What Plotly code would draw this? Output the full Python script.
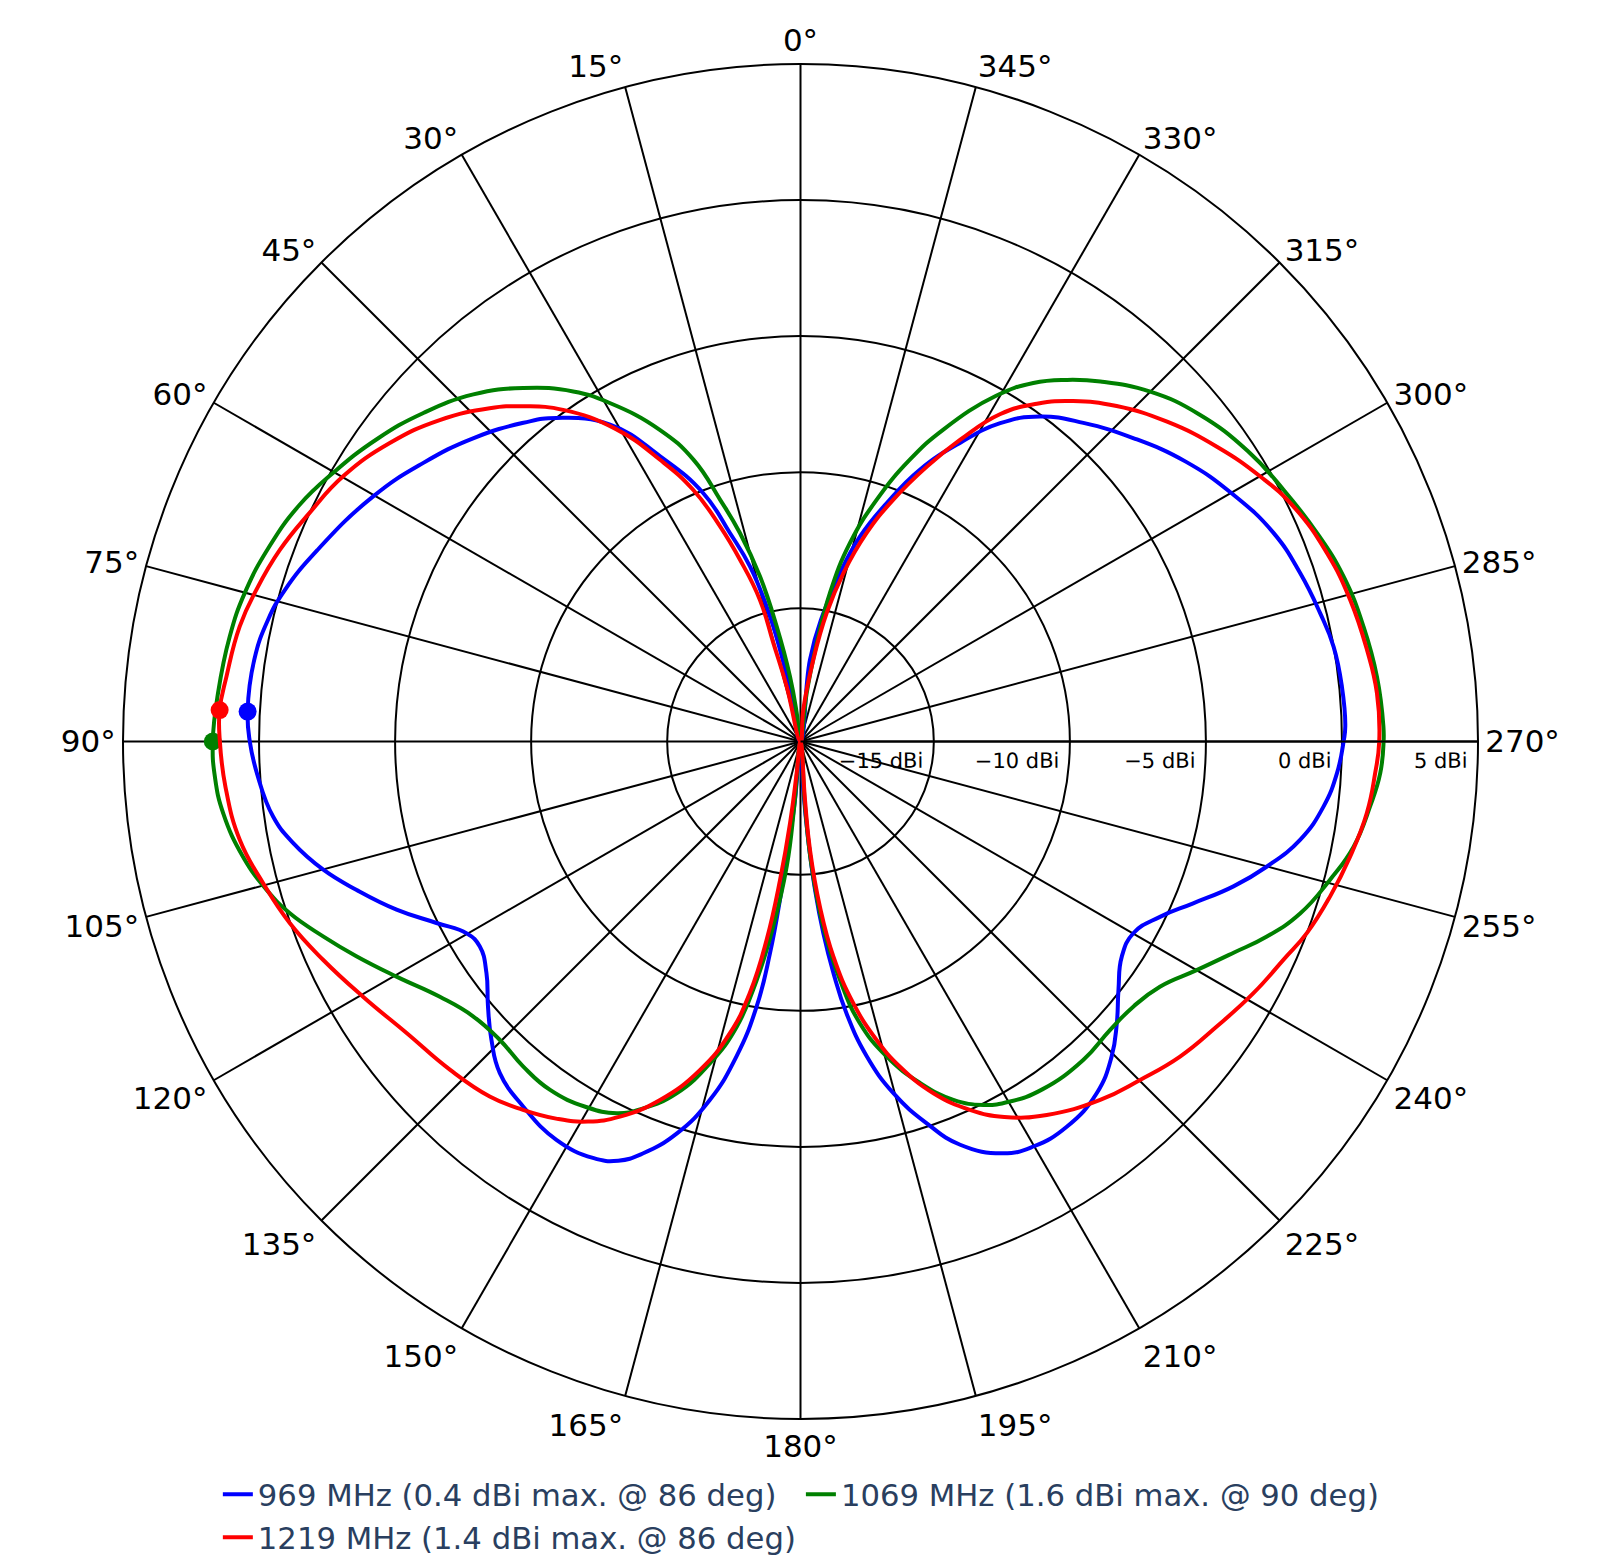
import plotly.graph_objects as go

# ---------------- data ----------------
blue_theta = [0, 11.5, 12.6, 14.1, 16.1, 18.7, 21.4, 26.2, 31.0, 37.0, 41.0, 47.2, 53.6, 60.2,
              68.4, 73.6, 77.2, 81.5, 86.9, 90, 93.5, 98.1, 101.3, 105.0, 108.5, 112.6, 116.5,
              119.9, 122.6, 126.4, 130.3, 134.0, 137.8, 142.8, 148.5, 153.5, 156.5, 159.1, 162.5,
              165.8, 168.5, 170.6, 171.8, 172.6, 173.4, 174.6, 180,
              183.3, 184.5, 185.6, 186.8, 188.1, 189.6, 191.9, 194.8, 198.3, 201.6, 206.2, 209.9,
              214.7, 220.1, 224.6, 228.3, 232.0, 236.2, 240.1, 244.0, 247.6, 251.5, 255.0, 258.9,
              262.9, 266.6, 270, 271.6, 275.8, 280.1, 283.9, 288.6, 293.8, 299.8, 306.0, 312.3,
              318.4, 323.6, 327.9, 331.9, 336.3, 340.1, 343.8, 346.8, 349.9, 353.4, 360]
blue_r = [-19.9, -17.96, -16.44, -14.78, -13.2, -11.81, -10.09, -8.22, -6.31, -5.01, -4.38, -3.5, -2.66, -1.79,
          -0.8, -0.15, 0.18, 0.4, 0.45, 0.34, 0.1, -0.32, -0.88, -1.73, -2.7, -3.82, -4.95,
          -5.75, -5.91, -5.56, -4.84, -4.11, -3.45, -3.05, -2.73, -2.8, -3.1, -3.7, -4.8,
          -6.31, -8.08, -10.02, -12.04, -14.03, -16.0, -17.75, -19.9,
          -18.12, -16.27, -14.42, -12.8, -11.3, -9.77, -8.07, -6.53, -5.12, -3.96, -3.03, -2.73,
          -2.69, -3.0, -3.62, -4.33, -5.07, -5.69, -5.78, -5.2, -4.29, -3.12, -2.15, -1.18,
          -0.53, -0.15, 0.06, 0.13, 0.1, 0.0, -0.23, -0.52, -0.9, -1.6, -2.4, -3.34,
          -4.24, -5.06, -6.09, -7.46, -8.99, -10.58, -12.05, -13.54, -15.11, -16.87, -19.9]

green_theta = [0, 7.6, 9.2, 11.7, 13.8, 16.2, 18.4, 20.8, 24.3, 29.4, 33.0, 38.1, 43.3, 49.0, 54.5,
               60.1, 64.8, 69.9, 75.0, 79.6, 85.2, 90, 93.5, 97.1, 101.7, 105.5, 108.6, 112.2, 115.8,
               120.2, 125.3, 130.0, 134.8, 139.5, 144.3, 149.5, 153.7, 156.8, 160.6, 164.3, 167.4,
               169.6, 171.6, 173.7, 174.5, 180,
               184.0, 185.1, 187.0, 189.4, 191.9, 195.3, 199.3, 203.1, 206.7, 210.2, 214.8, 221.6,
               227.0, 231.5, 235.7, 240.0, 244.0, 247.3, 251.0, 255.4, 259.2, 263.5, 266.9, 270,
               271.5, 276.4, 281.5, 286.9, 292.0, 297.5, 303.0, 309.4, 315.0, 320.2, 323.6, 327.0,
               330.5, 335.4, 338.8, 342.5, 346.0, 348.8, 350.6, 352.7, 360]
green_r = [-19.9, -18.85, -17.48, -15.58, -13.65, -11.92, -10.53, -8.82, -7.33, -5.62, -4.56, -3.39, -2.37, -1.51, -0.77,
           -0.09, 0.47, 0.9, 1.24, 1.43, 1.58, 1.7, 1.66, 1.48, 1.02, 0.47, -0.1, -0.95, -1.77,
           -2.72, -3.66, -4.19, -4.33, -4.2, -4.13, -4.32, -4.66, -5.23, -6.19, -7.62, -9.16,
           -10.99, -13.02, -15.28, -17.5, -19.9,
           -17.5, -15.29, -13.05, -11.02, -9.32, -7.89, -6.6, -5.58, -4.95, -4.59, -4.33, -4.25,
           -4.35, -4.26, -3.91, -3.09, -2.19, -1.32, -0.48, 0.22, 0.79, 1.17, 1.44, 1.53,
           1.53, 1.42, 1.22, 0.96, 0.57, 0.12, -0.3, -0.95, -1.72, -2.68, -3.39, -4.19,
           -5.3, -7.29, -8.79, -10.58, -12.38, -14.34, -16.23, -18.1, -19.9]

red_theta = [0, 14.1, 15.4, 16.0, 18.4, 20.5, 23.1, 26.5, 30.6, 35.6, 39.6, 43.0, 48.3, 54.0,
             59.9, 65.0, 69.8, 74.4, 78.4, 83.5, 86.9, 90, 94.5, 100.0, 104.8, 109.6, 114.6,
             120.3, 126.5, 133.1, 138.8, 143.0, 147.2, 150.8, 154.3, 158.6, 163.0, 166.4, 168.6,
             170.3, 171.6, 172.7, 173.1, 180,
             184.4, 185.0, 186.7, 188.7, 191.4, 194.3, 197.0, 200.7, 204.7, 208.5, 213.4, 219.9,
             225.1, 230.3, 235.6, 240.9, 245.7, 249.3, 253.7, 258.2, 262.8, 266.8, 270, 274.8,
             279.2, 284.5, 289.7, 295.5, 300.0, 305.3, 311.1, 316.7, 321.3, 325.0, 328.6, 332.1,
             335.3, 339.0, 342.4, 345.7, 348.5, 351.1, 355.0, 360]
red_r = [-19.9, -17.82, -16.15, -14.48, -12.86, -11.46, -9.84, -8.33, -6.55, -4.91, -3.91, -3.15, -2.14, -1.24,
         -0.47, 0.0, 0.49, 0.86, 1.14, 1.33, 1.48, 1.44, 1.3, 1.02, 0.52, 0.02, -0.61,
         -1.29, -1.89, -2.25, -2.56, -2.95, -3.4, -3.9, -4.6, -5.75, -7.28, -8.87, -10.47,
         -12.5, -14.76, -16.87, -18.73, -19.9,
         -17.75, -15.9, -13.79, -11.9, -10.09, -8.58, -7.4, -6.08, -5.0, -4.2, -3.46, -2.73,
         -2.28, -1.77, -1.36, -0.86, -0.42, 0.0, 0.38, 0.74, 1.08, 1.25, 1.37, 1.36,
         1.19, 0.96, 0.65, 0.17, -0.4, -1.15, -2.02, -2.96, -3.87, -4.75, -5.8, -7.35,
         -8.78, -10.38, -11.86, -13.51, -15.08, -16.86, -18.73, -19.9]

series_names = ["969 MHz (0.4 dBi max. @ 86 deg)",
                "1069 MHz (1.6 dBi max. @ 90 deg)",
                "1219 MHz (1.4 dBi max. @ 86 deg)"]
series_colors = ["#0000ff", "#008000", "#ff0000"]
peak_theta = [86.9, 90.0, 86.9]
peak_r = [0.45, 1.7, 1.48]

radial_range = [-19.9, 5]
radial_dtick = 5
angular_dtick = 15

# ---------------- figure ----------------
fig = go.Figure()
all_theta = [blue_theta, green_theta, red_theta]
all_r = [blue_r, green_r, red_r]
for i in range(3):
    fig.add_trace(go.Scatterpolar(
        r=all_r[i], theta=all_theta[i], mode="lines", name=series_names[i],
        line=dict(color=series_colors[i], width=4, shape="spline", smoothing=1.3),
    ))
    fig.add_trace(go.Scatterpolar(
        r=[peak_r[i]], theta=[peak_theta[i]], mode="markers", showlegend=False,
        marker=dict(color=series_colors[i], size=18),
    ))

fig.update_layout(
    width=1599, height=1562,
    paper_bgcolor="white",
    font=dict(family="DejaVu Sans", size=30, color="#2a3f5f"),
    margin=dict(l=123, r=121, t=64, b=143, autoexpand=False),
    showlegend=True,
    legend=dict(orientation="h", x=0.07, xanchor="left", y=-0.036, yanchor="top",
                font=dict(size=30.7, color="#2a3f5f"), bgcolor="rgba(0,0,0,0)"),
    polar=dict(
        bgcolor="white",
        domain=dict(x=[0, 1], y=[0, 1]),
        angularaxis=dict(
            rotation=90, direction="counterclockwise",
            tickmode="linear", tick0=0, dtick=angular_dtick,
            showgrid=True, gridcolor="black", gridwidth=2,
            showline=True, linecolor="black", linewidth=2,
            ticks="", tickfont=dict(size=31, color="black"),
        ),
        radialaxis=dict(
            range=radial_range, tickmode="linear", tick0=0, dtick=radial_dtick,
            ticksuffix=" dBi\u2002", angle=0, side="clockwise", tickangle=-0.3,
            showgrid=True, gridcolor="black", gridwidth=2,
            showline=True, linecolor="black", linewidth=2,
            ticks="", tickfont=dict(size=21, color="black"),
        ),
    ),
)

fig.write_html("out.html")
